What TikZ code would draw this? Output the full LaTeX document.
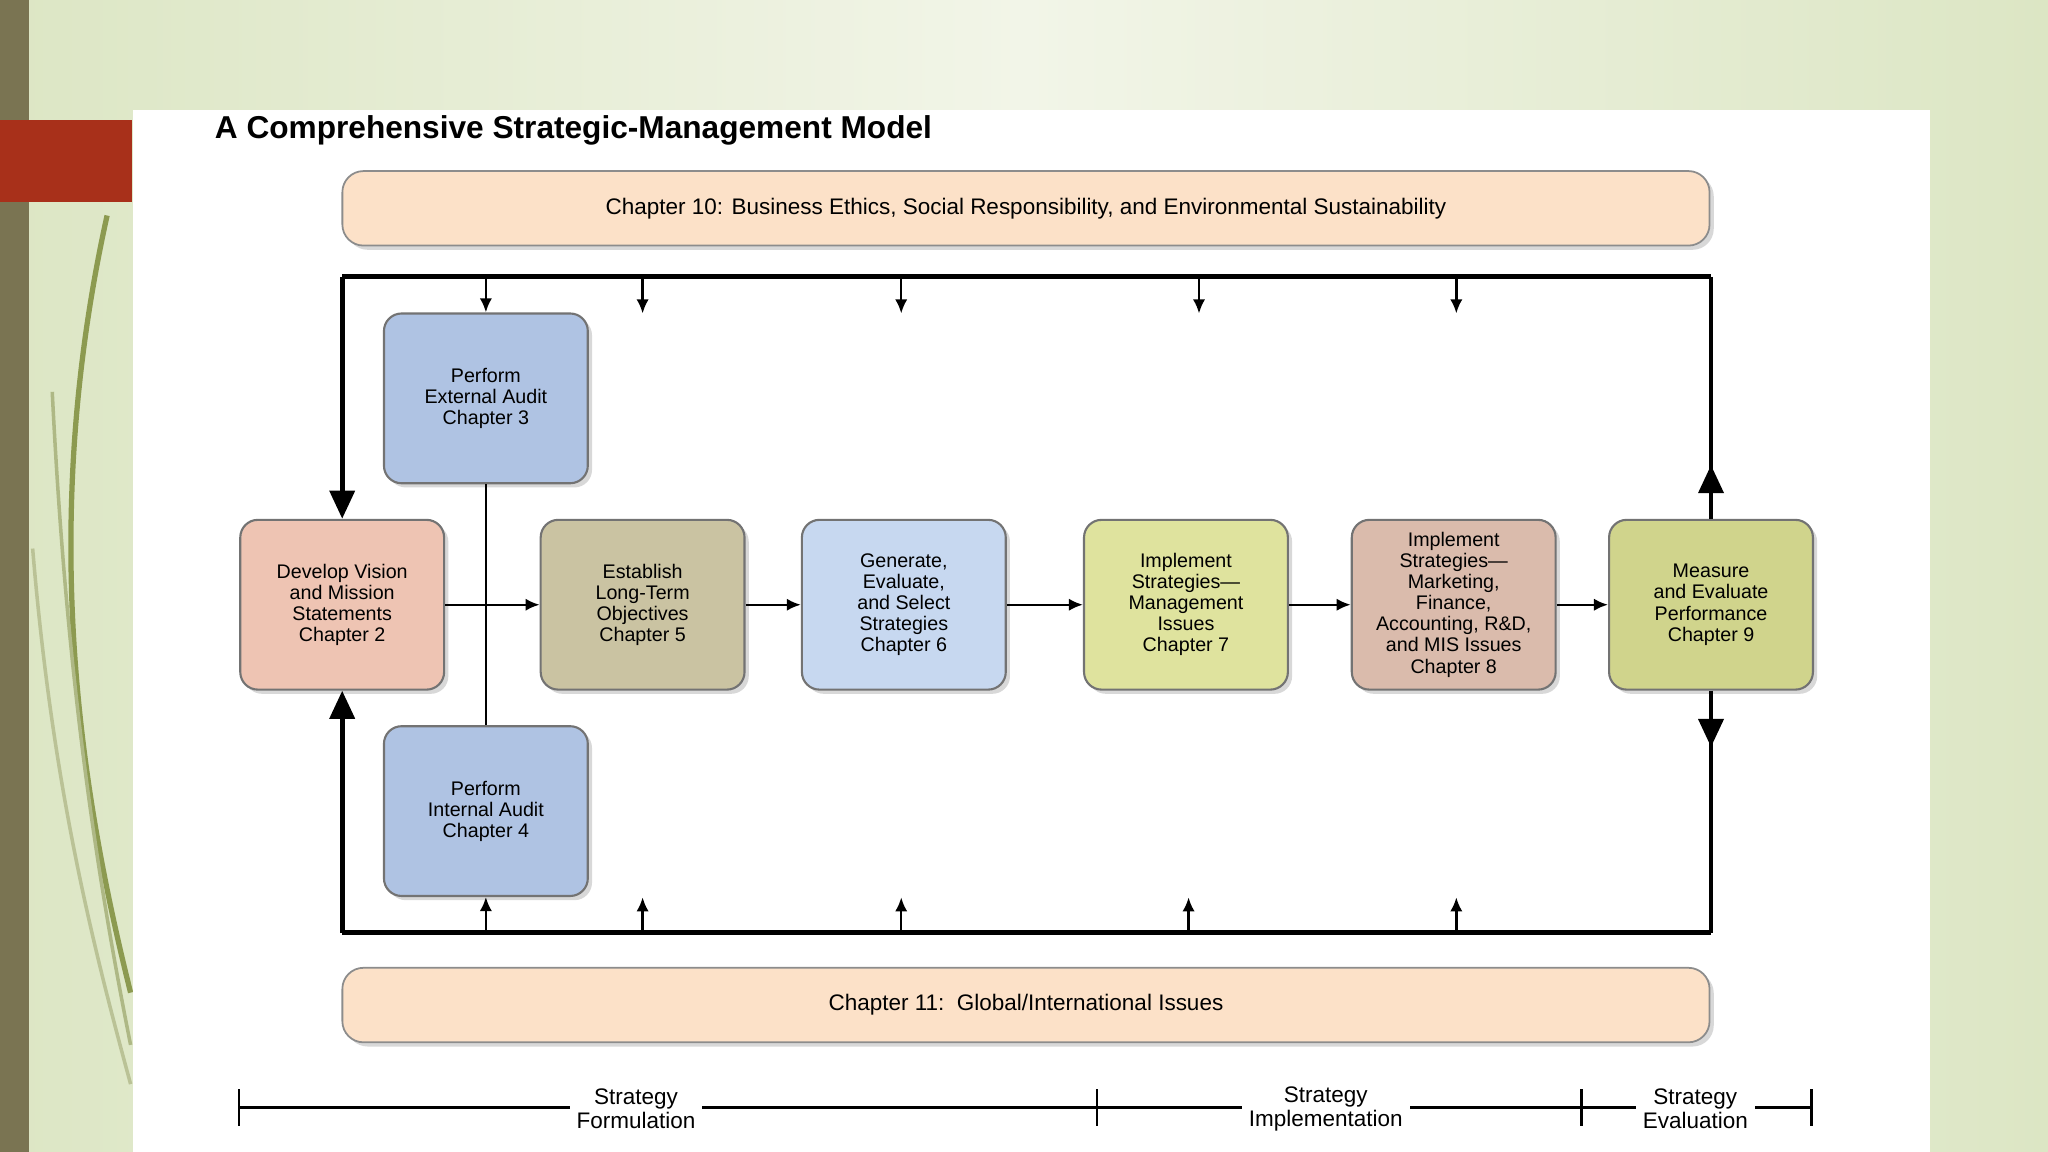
\documentclass[tikz,border=0pt]{standalone}
\usepackage{fontspec}
\setmainfont{Liberation Sans}
\usetikzlibrary{arrows.meta,shadows}
\definecolor{bgA}{HTML}{DCE6C4}
\definecolor{bgB}{HTML}{F2F5E8}
\definecolor{strip}{HTML}{7A7452}
\definecolor{redb}{HTML}{A8301A}
\definecolor{peach}{HTML}{FCE1C8}
\definecolor{blueA}{HTML}{AFC3E3}
\definecolor{pinkA}{HTML}{EEC4B3}
\definecolor{tanA}{HTML}{CAC3A2}
\definecolor{blueB}{HTML}{C7D8F0}
\definecolor{ygA}{HTML}{DFE39E}
\definecolor{brA}{HTML}{DABBAC}
\definecolor{olA}{HTML}{D0D48C}
\definecolor{gline}{HTML}{8C9A50}
\tikzset{
 box/.style={draw=black!55,line width=0.6pt,rounded corners=5pt,minimum width=58pt,minimum height=48.3pt,inner sep=0pt,align=center,font=\fontsize{5.6}{6}\selectfont,drop shadow={opacity=0.3,shadow xshift=1.2pt,shadow yshift=-1.2pt}},
 bar/.style={draw=black!45,line width=0.5pt,rounded corners=6pt,fill=peach,minimum width=389pt,minimum height=21.2pt,inner sep=0pt,font=\fontsize{6.4}{7}\selectfont,drop shadow={opacity=0.3,shadow xshift=1.2pt,shadow yshift=-1.2pt}},
 frame/.style={line width=1.4pt},
 sm/.style={line width=0.7pt,-{Latex[length=4pt,width=3.5pt]}},
 big/.style={line width=1.4pt,-{Triangle[length=8pt,width=7pt]}},
 lab/.style={font=\fontsize{6.4}{7}\selectfont,align=center,fill=white,inner sep=2pt}
}
\begin{document}
\begin{tikzpicture}[x=0.013061cm,y=-0.013061cm]
\useasboundingbox (0,0) rectangle (1568,882);
\shade[left color=bgA,right color=bgA,middle color=bgB] (0,0) rectangle (1568,882);
\fill[strip] (0,0) rectangle (22,882);
\draw[gline,line width=1.5pt] (82,165) .. controls (30,400) and (60,600) .. (100,760);
\draw[gline!70,line width=1pt] (40,300) .. controls (50,500) and (70,650) .. (100,800);
\draw[gline!60,line width=1pt] (25,420) .. controls (40,600) and (70,720) .. (100,830);
\fill[white] (102,84) rectangle (1478,882);
\fill[redb] (0,92) rectangle (101,155);
\node[anchor=west,font=\bfseries\fontsize{9}{11}\selectfont,inner sep=0pt] (title) at (164,100) {A Comprehensive Strategic-Management Model};
\node[bar] (c10) at (785.5,159.5) {Chapter 10: Business Ethics, Social Responsibility, and Environmental Sustainability};
\node[bar] (c11) at (785.5,769.5) {Chapter 11:\ \ Global/International Issues};
\coordinate (tl) at (262,212); \coordinate (tr) at (1310,212);
\coordinate (bl) at (262,714); \coordinate (br) at (1310,714);
\draw[frame] (tl) -- (tr); \draw[frame] (bl) -- (br);
\node[box,fill=blueA] (ext) at (372,305) {Perform\\External Audit\\Chapter 3};
\node[box,fill=blueA] (int) at (372,621) {Perform\\Internal Audit\\Chapter 4};
\node[box,fill=pinkA] (dev) at (262,463) {Develop Vision\\and Mission\\Statements\\Chapter 2};
\node[box,fill=tanA] (est) at (492,463) {Establish\\Long-Term\\Objectives\\Chapter 5};
\node[box,fill=blueB] (gen) at (692,463) {Generate,\\Evaluate,\\and Select\\Strategies\\Chapter 6};
\node[box,fill=ygA] (im7) at (908,463) {Implement\\Strategies---\\Management\\Issues\\Chapter 7};
\node[box,fill=brA] (im8) at (1113,463) {Implement\\Strategies---\\Marketing,\\Finance,\\Accounting, R\&D,\\and MIS Issues\\Chapter 8};
\node[box,fill=olA] (mea) at (1310,463) {Measure\\and Evaluate\\Performance\\Chapter 9};
% left side
\draw[frame] (tl) -- (262,385);
\draw[big] (262,375) -- (dev.north);
\draw[frame] (bl) -- (262,545);
\draw[big] (262,555) -- (dev.south);
% right side
\draw[frame] (tr) -- (1310,370);
\draw[big] (mea.north) -- (1310,356);
\draw[frame] (br) -- (1310,560);
\draw[big] (mea.south) -- (1310,572);
% audit connector
\draw[line width=0.7pt] (ext.south) -- (int.north);
% horizontal
\draw[sm] (dev.east) -- (est.west);
\draw[sm] (est.east) -- (gen.west);
\draw[sm] (gen.east) -- (im7.west);
\draw[sm] (im7.east) -- (im8.west);
\draw[sm] (im8.east) -- (mea.west);
% top/bottom small arrows
\draw[sm] (372,212) -- (ext.north);
\foreach \x in {492,690,918,1115} \draw[sm] (\x,212) -- (\x,240);
\draw[sm] (372,714) -- (int.south);
\foreach \x in {492,690,910,1115} \draw[sm] (\x,714) -- (\x,687);
% bottom scale
\coordinate (s0) at (183,848); \coordinate (s1) at (840,848);
\coordinate (s2) at (1211,848); \coordinate (s3) at (1387,848);
\draw[line width=0.7pt] (s0) -- (s3);
\foreach \p in {s0,s1,s2,s3} \draw[line width=0.7pt] (\p) ++(0,-14) -- ++(0,28);
\node[lab] (f) at (487,849) {Strategy\\Formulation};
\node[lab] (i) at (1015,849) {Strategy\\Implementation};
\node[lab] (e) at (1298,849) {Strategy\\Evaluation};
\end{tikzpicture}
\end{document}
